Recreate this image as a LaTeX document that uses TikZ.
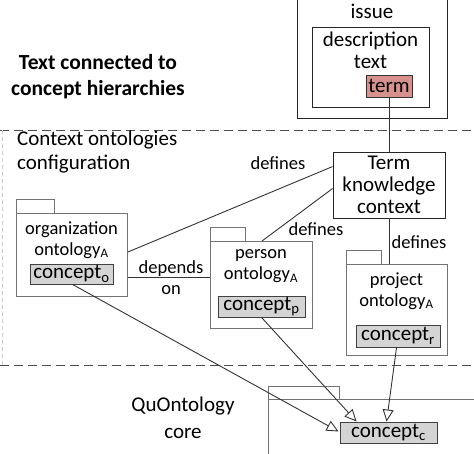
\documentclass[tikz,border=0pt]{standalone}
\usepackage{fontspec}
\setmainfont{Carlito}
\usetikzlibrary{arrows.meta,calc}
\definecolor{termred}{HTML}{D8928E}
\definecolor{conceptgray}{HTML}{D4D4D4}
\begin{document}
\begin{tikzpicture}[x=1pt,y=-1pt,
  box/.style={draw=black!85, line width=0.9pt, inner sep=0pt},
  pkg/.style={draw=black!55, line width=0.9pt, anchor=north west, inner sep=0pt},
  cbox/.style={draw=black!75, fill=conceptgray, line width=0.9pt, inner sep=0pt, font=\fontsize{21}{24}\selectfont},
  txt/.style={inner sep=0pt, font=\fontsize{21}{22}\selectfont},
  small/.style={inner sep=0pt, font=\fontsize{18.5}{21}\selectfont},
  conn/.style={draw=black!80, line width=0.9pt},
  arr/.style={conn, -{Triangle[open,length=12pt,width=11pt]}},
  sep/.style={draw=black!70, line width=1pt, dash pattern=on 9pt off 5pt}]
\useasboundingbox (0,0) rectangle (474,453);
\clip (0,0) rectangle (474,453);
% separators
\draw[sep] (0,130) -- (474,130);
\draw[sep] (0,365) -- (474,365);
\draw[draw=black!20, line width=0.8pt, dash pattern=on 4pt off 3pt] (2,130) -- (2,365);
% section titles
\node[txt, font=\fontsize{21.5}{26}\selectfont\bfseries, align=center] (ttl) at (98,77) {Text connected to\\concept hierarchies};
\node[txt, align=left, anchor=north west, font=\fontsize{21}{24}\selectfont] (ctx) at (17,131) {Context ontologies\\configuration};
\node[txt, align=center, font=\fontsize{21}{27}\selectfont] (core) at (183,418) {QuOntology\\core};
% issue
\node[box, anchor=north west, minimum width=150pt, minimum height=123pt] (issue) at (297,-5) {};
\node[txt] (issuelbl) at (372,11) {issue};
\node[box, anchor=north west, minimum width=117pt, minimum height=80pt] (desc) at (312,27) {};
\node[txt, align=center] (desclbl) at (370.5,50) {description\\text};
\node[draw=black!80, fill=termred, line width=0.8pt, inner sep=0pt, minimum width=46pt, minimum height=22pt, txt] (term) at (389,86) {term};
% term knowledge context
\node[box, minimum width=112pt, minimum height=66pt, align=center, txt] (tkc) at (389,185) {Term\\knowledge\\context};
% organization package
\node[pkg, minimum width=38pt, minimum height=14pt] (orgtab) at (16,199) {};
\node[pkg, minimum width=111pt, minimum height=83pt] (org) at (16,213) {};
\node[small, align=center] (orglbl) at (71.5,240) {organization\\ontology\textsubscript{A}};
\node[cbox, minimum width=83pt, minimum height=20pt] (co) at (71.5,274) {concept\textsubscript{o}};
% person package
\node[pkg, minimum width=35pt, minimum height=14pt] (pertab) at (210,227) {};
\node[pkg, minimum width=102pt, minimum height=87pt] (per) at (210,241) {};
\node[small, align=center] (perlbl) at (261,266) {person\\ontology\textsubscript{A}};
\node[cbox, minimum width=87pt, minimum height=21pt] (cp) at (261.5,306.5) {concept\textsubscript{p}};
% project package
\node[pkg, minimum width=35pt, minimum height=14pt] (prjtab) at (346,250) {};
\node[pkg, minimum width=101pt, minimum height=91pt] (prj) at (346,264) {};
\node[small, align=center] (prjlbl) at (396.5,291) {project\\ontology\textsubscript{A}};
\node[cbox, minimum width=84pt, minimum height=22pt] (cr) at (398,336) {concept\textsubscript{r}};
% core package
\node[pkg, minimum width=71pt, minimum height=13pt] (coretab) at (268,386) {};
\node[pkg, minimum width=212pt, minimum height=71pt] (corepkg) at (268,399) {};
\node[cbox, minimum width=97pt, minimum height=21pt] (cc) at (388.5,432.5) {concept\textsubscript{c}};
% connectors
\draw[conn] (term.south) -- (tkc.north -| term.south);
\draw[conn] ($(tkc.north west)+(0,15)$) -- ($(org.north east)+(0,39)$);
\draw[conn] ($(tkc.north west)+(0,37)$) -- ($(per.north west)+(52,0)$);
\draw[conn] (tkc.south) -- (prj.north -| tkc.south);
\draw[conn] ($(org.north east)+(0,64)$) -- ($(per.north west)+(0,36)$);
\node[small] (def1) at (278,163) {defines};
\node[small] (def2) at (316,229) {defines};
\node[small] (def3) at (419,242) {defines};
\node[small, align=center] (dep) at (171,278) {depends\\on};
\draw[arr] ($(co.south west)+(43,0)$) -- ($(cc.west)+(-1,-1)$);
\draw[arr] ($(cp.south west)+(44,0)$) -- ($(cc.north west)+(17,0)$);
\draw[arr] ($(cr.south west)+(41,0)$) -- ($(cc.north west)+(47,0)$);
\end{tikzpicture}
\end{document}
